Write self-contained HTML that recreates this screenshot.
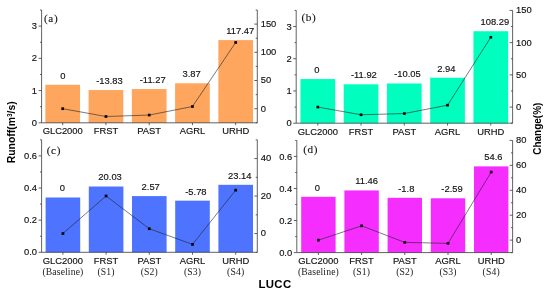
<!DOCTYPE html>
<html><head><meta charset="utf-8"><title>LUCC runoff</title>
<style>
html,body{margin:0;padding:0;background:#fff;}
body{width:550px;height:293px;overflow:hidden;}
svg{display:block;}
.t{font-family:"Liberation Sans",Arial,sans-serif;font-size:9.4px;fill:#111;stroke:#111;stroke-width:0.15px;}
.s{font-family:"Liberation Serif","Times New Roman",serif;font-size:9.7px;fill:#222;letter-spacing:0.12px;}
.p{font-family:"Liberation Serif","Times New Roman",serif;font-size:11.2px;fill:#111;letter-spacing:0.65px;stroke:#111;stroke-width:0.1px;}
.b{font-family:"Liberation Sans",Arial,sans-serif;font-weight:bold;fill:#000;}
</style></head><body>
<svg width="550" height="293" viewBox="0 0 550 293">
<rect width="550" height="293" fill="#fff"/>
<rect x="45.35" y="84.77" width="34.70" height="38.03" fill="#FFA65E"/>
<rect x="88.60" y="90.03" width="34.70" height="32.77" fill="#FFA65E"/>
<rect x="131.85" y="89.06" width="34.70" height="33.74" fill="#FFA65E"/>
<rect x="175.10" y="83.30" width="34.70" height="39.50" fill="#FFA65E"/>
<rect x="218.35" y="40.10" width="34.70" height="82.70" fill="#FFA65E"/>
<path d="M41.60 10.00V122.80H257.30V10.00" fill="none" stroke="#3a3a3a" stroke-width="0.8"/>
<path d="M41.60 122.80h-3M41.60 90.57h-3M41.60 58.34h-3M41.60 26.11h-3M41.60 106.69h-1.6M41.60 74.46h-1.6M41.60 42.23h-1.6M41.60 10.00h-1.6M257.30 108.70h-3M257.30 80.50h-3M257.30 52.30h-3M257.30 24.10h-3M257.30 122.80h-1.6M257.30 94.60h-1.6M257.30 66.40h-1.6M257.30 38.20h-1.6M257.30 10.00h-1.6M62.70 122.80v2.4M105.95 122.80v2.4M149.20 122.80v2.4M192.45 122.80v2.4M235.70 122.80v2.4" fill="none" stroke="#3a3a3a" stroke-width="0.8"/>
<text x="37.00" y="125.90" text-anchor="end" class="t">0</text>
<text x="37.00" y="93.67" text-anchor="end" class="t">1</text>
<text x="37.00" y="61.44" text-anchor="end" class="t">2</text>
<text x="37.00" y="29.21" text-anchor="end" class="t">3</text>
<text x="260.70" y="111.60" class="t">0</text>
<text x="260.70" y="83.40" class="t">50</text>
<text x="260.70" y="55.20" class="t">100</text>
<text x="260.70" y="27.00" class="t">150</text>
<text x="62.70" y="134.10" text-anchor="middle" class="t">GLC2000</text>
<text x="105.95" y="134.10" text-anchor="middle" class="t">FRST</text>
<text x="149.20" y="134.10" text-anchor="middle" class="t">PAST</text>
<text x="192.45" y="134.10" text-anchor="middle" class="t">AGRL</text>
<text x="235.70" y="134.10" text-anchor="middle" class="t">URHD</text>
<polyline points="62.70,108.70 105.95,116.50 149.20,115.06 192.45,106.52 235.70,42.45" fill="none" stroke="#222" stroke-width="0.6"/>
<rect x="61.35" y="107.35" width="2.7" height="2.7" fill="#000"/>
<rect x="104.60" y="115.15" width="2.7" height="2.7" fill="#000"/>
<rect x="147.85" y="113.71" width="2.7" height="2.7" fill="#000"/>
<rect x="191.10" y="105.17" width="2.7" height="2.7" fill="#000"/>
<rect x="234.35" y="41.10" width="2.7" height="2.7" fill="#000"/>
<text x="62.80" y="78.67" text-anchor="middle" class="t">0</text>
<text x="109.50" y="83.93" text-anchor="middle" class="t">-13.83</text>
<text x="152.70" y="82.96" text-anchor="middle" class="t">-11.27</text>
<text x="191.60" y="77.20" text-anchor="middle" class="t">3.87</text>
<text x="240.30" y="34.00" text-anchor="middle" class="t">117.47</text>
<text x="43.90" y="22.10" class="p">(a)</text>
<rect x="300.45" y="79.05" width="34.70" height="44.15" fill="#00FFBE"/>
<rect x="343.70" y="84.31" width="34.70" height="38.89" fill="#00FFBE"/>
<rect x="386.95" y="83.48" width="34.70" height="39.72" fill="#00FFBE"/>
<rect x="430.20" y="77.75" width="34.70" height="45.45" fill="#00FFBE"/>
<rect x="473.45" y="31.23" width="34.70" height="91.97" fill="#00FFBE"/>
<path d="M296.20 10.40V123.20H512.60V10.40" fill="none" stroke="#3a3a3a" stroke-width="0.8"/>
<path d="M296.20 123.20h-3M296.20 90.97h-3M296.20 58.74h-3M296.20 26.51h-3M296.20 107.09h-1.6M296.20 74.86h-1.6M296.20 42.63h-1.6M296.20 10.40h-1.6M512.60 107.09h-3M512.60 74.86h-3M512.60 42.63h-3M512.60 10.40h-3M512.60 123.20h-1.6M512.60 90.97h-1.6M512.60 58.74h-1.6M512.60 26.51h-1.6M317.80 123.20v2.4M361.05 123.20v2.4M404.30 123.20v2.4M447.55 123.20v2.4M490.80 123.20v2.4" fill="none" stroke="#3a3a3a" stroke-width="0.8"/>
<text x="291.60" y="126.30" text-anchor="end" class="t">0</text>
<text x="291.60" y="94.07" text-anchor="end" class="t">1</text>
<text x="291.60" y="61.84" text-anchor="end" class="t">2</text>
<text x="291.60" y="29.61" text-anchor="end" class="t">3</text>
<text x="516.00" y="109.99" class="t">0</text>
<text x="516.00" y="77.76" class="t">50</text>
<text x="516.00" y="45.53" class="t">100</text>
<text x="516.00" y="13.30" class="t">150</text>
<text x="317.80" y="134.50" text-anchor="middle" class="t">GLC2000</text>
<text x="361.05" y="134.50" text-anchor="middle" class="t">FRST</text>
<text x="404.30" y="134.50" text-anchor="middle" class="t">PAST</text>
<text x="447.55" y="134.50" text-anchor="middle" class="t">AGRL</text>
<text x="490.80" y="134.50" text-anchor="middle" class="t">URHD</text>
<polyline points="317.80,107.09 361.05,114.77 404.30,113.56 447.55,105.19 490.80,37.29" fill="none" stroke="#222" stroke-width="0.6"/>
<rect x="316.45" y="105.74" width="2.7" height="2.7" fill="#000"/>
<rect x="359.70" y="113.42" width="2.7" height="2.7" fill="#000"/>
<rect x="402.95" y="112.21" width="2.7" height="2.7" fill="#000"/>
<rect x="446.20" y="103.84" width="2.7" height="2.7" fill="#000"/>
<rect x="489.45" y="35.94" width="2.7" height="2.7" fill="#000"/>
<text x="316.90" y="72.95" text-anchor="middle" class="t">0</text>
<text x="363.90" y="78.21" text-anchor="middle" class="t">-11.92</text>
<text x="407.50" y="77.38" text-anchor="middle" class="t">-10.05</text>
<text x="446.40" y="71.65" text-anchor="middle" class="t">2.94</text>
<text x="494.80" y="25.13" text-anchor="middle" class="t">108.29</text>
<text x="301.40" y="21.20" class="p">(b)</text>
<rect x="45.60" y="197.50" width="34.60" height="54.80" fill="#4D73FF"/>
<rect x="88.80" y="186.52" width="34.60" height="65.78" fill="#4D73FF"/>
<rect x="132.00" y="196.09" width="34.60" height="56.21" fill="#4D73FF"/>
<rect x="175.20" y="200.66" width="34.60" height="51.64" fill="#4D73FF"/>
<rect x="218.40" y="184.81" width="34.60" height="67.49" fill="#4D73FF"/>
<path d="M41.60 139.80V252.30H257.30V139.80" fill="none" stroke="#3a3a3a" stroke-width="0.8"/>
<path d="M41.60 252.30h-3M41.60 220.16h-3M41.60 188.01h-3M41.60 155.87h-3M41.60 236.23h-1.6M41.60 204.09h-1.6M41.60 171.94h-1.6M41.60 139.80h-1.6M257.30 233.55h-3M257.30 196.05h-3M257.30 158.55h-3M257.30 252.30h-1.6M257.30 214.80h-1.6M257.30 177.30h-1.6M257.30 139.80h-1.6M62.90 252.30v2.4M106.10 252.30v2.4M149.30 252.30v2.4M192.50 252.30v2.4M235.70 252.30v2.4" fill="none" stroke="#3a3a3a" stroke-width="0.8"/>
<text x="37.00" y="255.40" text-anchor="end" class="t">0.0</text>
<text x="37.00" y="223.26" text-anchor="end" class="t">0.2</text>
<text x="37.00" y="191.11" text-anchor="end" class="t">0.4</text>
<text x="37.00" y="158.97" text-anchor="end" class="t">0.6</text>
<text x="260.70" y="236.45" class="t">0</text>
<text x="260.70" y="198.95" class="t">20</text>
<text x="260.70" y="161.45" class="t">40</text>
<text x="62.90" y="263.60" text-anchor="middle" class="t">GLC2000</text>
<text x="106.10" y="263.60" text-anchor="middle" class="t">FRST</text>
<text x="149.30" y="263.60" text-anchor="middle" class="t">PAST</text>
<text x="192.50" y="263.60" text-anchor="middle" class="t">AGRL</text>
<text x="235.70" y="263.60" text-anchor="middle" class="t">URHD</text>
<text x="62.90" y="274.70" text-anchor="middle" class="s">(Baseline)</text>
<text x="106.10" y="274.70" text-anchor="middle" class="s">(S1)</text>
<text x="149.30" y="274.70" text-anchor="middle" class="s">(S2)</text>
<text x="192.50" y="274.70" text-anchor="middle" class="s">(S3)</text>
<text x="235.70" y="274.70" text-anchor="middle" class="s">(S4)</text>
<polyline points="62.90,233.55 106.10,195.99 149.30,228.73 192.50,244.39 235.70,190.16" fill="none" stroke="#222" stroke-width="0.6"/>
<rect x="61.55" y="232.20" width="2.7" height="2.7" fill="#000"/>
<rect x="104.75" y="194.64" width="2.7" height="2.7" fill="#000"/>
<rect x="147.95" y="227.38" width="2.7" height="2.7" fill="#000"/>
<rect x="191.15" y="243.04" width="2.7" height="2.7" fill="#000"/>
<rect x="234.35" y="188.81" width="2.7" height="2.7" fill="#000"/>
<text x="62.30" y="191.40" text-anchor="middle" class="t">0</text>
<text x="110.10" y="180.42" text-anchor="middle" class="t">20.03</text>
<text x="150.70" y="189.99" text-anchor="middle" class="t">2.57</text>
<text x="195.90" y="194.56" text-anchor="middle" class="t">-5.78</text>
<text x="239.70" y="178.71" text-anchor="middle" class="t">23.14</text>
<text x="46.70" y="153.60" class="p">(c)</text>
<rect x="301.20" y="196.82" width="34.40" height="55.78" fill="#F52DFF"/>
<rect x="344.40" y="190.43" width="34.40" height="62.17" fill="#F52DFF"/>
<rect x="387.60" y="197.82" width="34.40" height="54.78" fill="#F52DFF"/>
<rect x="430.80" y="198.27" width="34.40" height="54.33" fill="#F52DFF"/>
<rect x="474.00" y="166.37" width="34.40" height="86.23" fill="#F52DFF"/>
<path d="M296.80 140.40V252.60H512.60V140.40" fill="none" stroke="#3a3a3a" stroke-width="0.8"/>
<path d="M296.80 252.60h-3M296.80 220.54h-3M296.80 188.49h-3M296.80 156.43h-3M296.80 236.57h-1.6M296.80 204.51h-1.6M296.80 172.46h-1.6M296.80 140.40h-1.6M512.60 240.13h-3M512.60 215.20h-3M512.60 190.27h-3M512.60 165.33h-3M512.60 140.40h-3M512.60 252.60h-1.6M512.60 227.67h-1.6M512.60 202.73h-1.6M512.60 177.80h-1.6M512.60 152.87h-1.6M318.40 252.60v2.4M361.60 252.60v2.4M404.80 252.60v2.4M448.00 252.60v2.4M491.20 252.60v2.4" fill="none" stroke="#3a3a3a" stroke-width="0.8"/>
<text x="292.20" y="255.70" text-anchor="end" class="t">0.0</text>
<text x="292.20" y="223.64" text-anchor="end" class="t">0.2</text>
<text x="292.20" y="191.59" text-anchor="end" class="t">0.4</text>
<text x="292.20" y="159.53" text-anchor="end" class="t">0.6</text>
<text x="516.00" y="243.03" class="t">0</text>
<text x="516.00" y="218.10" class="t">20</text>
<text x="516.00" y="193.17" class="t">40</text>
<text x="516.00" y="168.23" class="t">60</text>
<text x="516.00" y="143.30" class="t">80</text>
<text x="318.40" y="263.90" text-anchor="middle" class="t">GLC2000</text>
<text x="361.60" y="263.90" text-anchor="middle" class="t">FRST</text>
<text x="404.80" y="263.90" text-anchor="middle" class="t">PAST</text>
<text x="448.00" y="263.90" text-anchor="middle" class="t">AGRL</text>
<text x="491.20" y="263.90" text-anchor="middle" class="t">URHD</text>
<text x="318.40" y="275.00" text-anchor="middle" class="s">(Baseline)</text>
<text x="361.60" y="275.00" text-anchor="middle" class="s">(S1)</text>
<text x="404.80" y="275.00" text-anchor="middle" class="s">(S2)</text>
<text x="448.00" y="275.00" text-anchor="middle" class="s">(S3)</text>
<text x="491.20" y="275.00" text-anchor="middle" class="s">(S4)</text>
<polyline points="318.40,240.13 361.60,225.85 404.80,242.38 448.00,243.36 491.20,172.07" fill="none" stroke="#222" stroke-width="0.6"/>
<rect x="317.05" y="238.78" width="2.7" height="2.7" fill="#000"/>
<rect x="360.25" y="224.50" width="2.7" height="2.7" fill="#000"/>
<rect x="403.45" y="241.03" width="2.7" height="2.7" fill="#000"/>
<rect x="446.65" y="242.01" width="2.7" height="2.7" fill="#000"/>
<rect x="489.85" y="170.72" width="2.7" height="2.7" fill="#000"/>
<text x="317.30" y="190.72" text-anchor="middle" class="t">0</text>
<text x="366.60" y="184.33" text-anchor="middle" class="t">11.46</text>
<text x="406.30" y="191.72" text-anchor="middle" class="t">-1.8</text>
<text x="452.00" y="192.17" text-anchor="middle" class="t">-2.59</text>
<text x="493.40" y="160.27" text-anchor="middle" class="t">54.6</text>
<text x="303.20" y="152.90" class="p">(d)</text>
<text transform="translate(15.2,132.3) rotate(-90)" text-anchor="middle" class="b" style="font-size:10.4px">Runoff(m<tspan dy="-3.2" style="font-size:6.5px">3</tspan><tspan dy="3.2">/s)</tspan></text>
<text transform="translate(541,128.7) rotate(-90)" text-anchor="middle" class="b" style="font-size:10px">Change(%)</text>
<text x="275" y="288.2" text-anchor="middle" class="b" style="font-size:11.4px;letter-spacing:0.4px">LUCC</text>
</svg>
</body></html>
